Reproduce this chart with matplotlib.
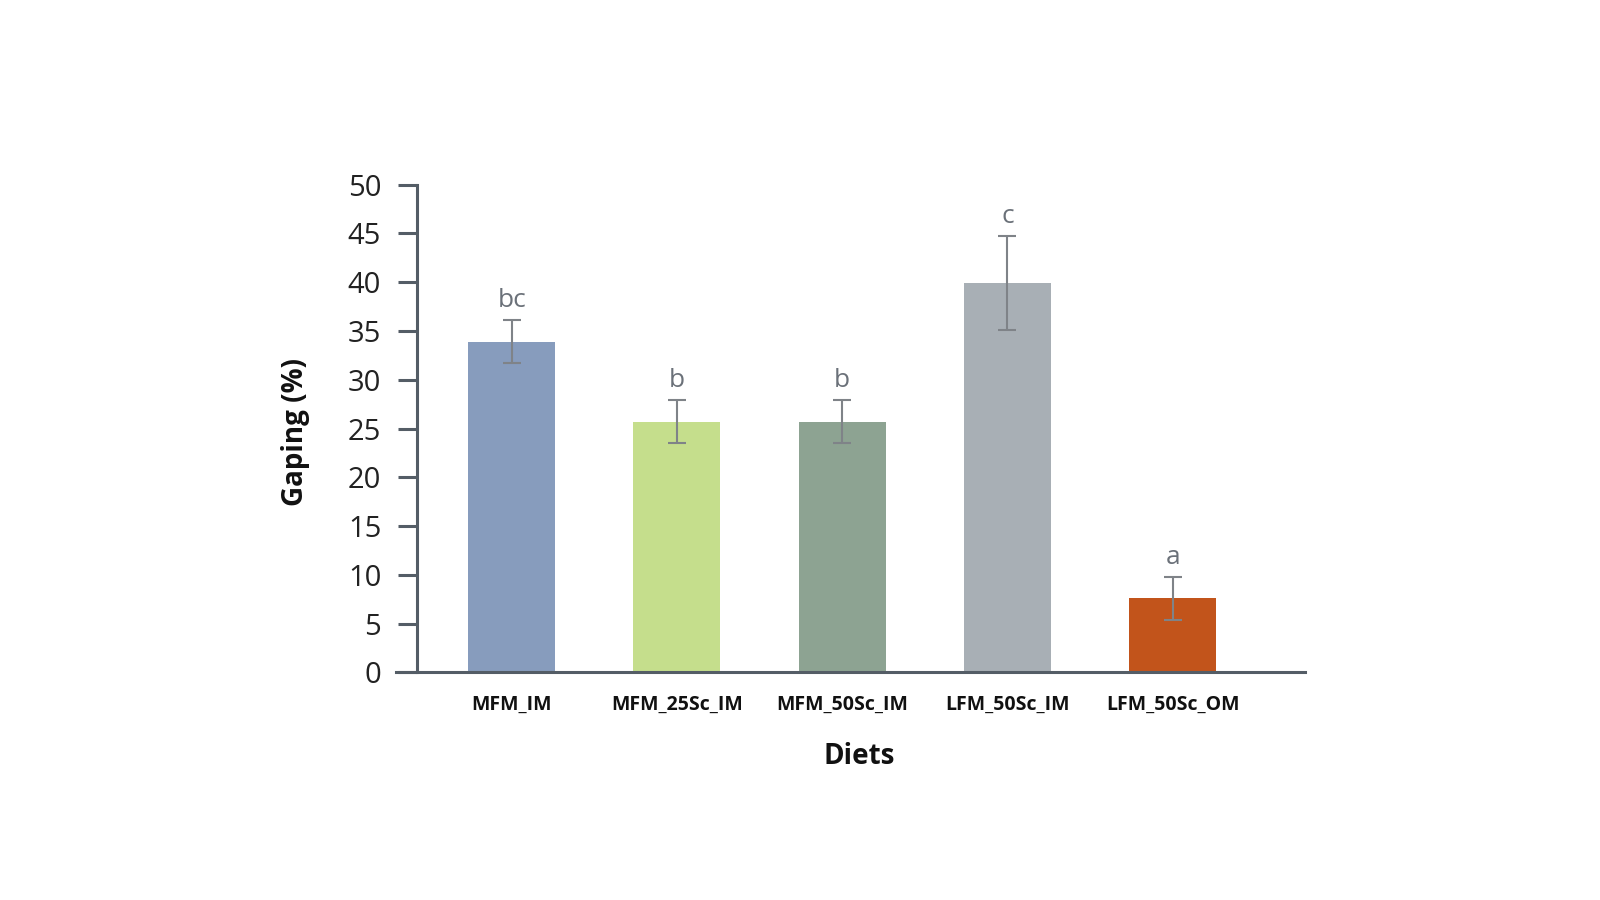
import matplotlib
matplotlib.use("Agg")
import matplotlib.pyplot as plt
import numpy as np

diets = ["MFM_IM", "MFM_25Sc_IM", "MFM_50Sc_IM", "LFM_50Sc_IM", "LFM_50Sc_OM"]
gaping = [33.9, 25.7, 25.7, 39.9, 7.6]
errors = [2.2, 2.2, 2.2, 4.8, 2.2]
letters = ["bc", "b", "b", "c", "a"]
colors = ["#879CBD", "#C5DE8C", "#8DA392", "#A8AFB5", "#C2541B"]
yticks = [0, 5, 10, 15, 20, 25, 30, 35, 40, 45, 50]

plt.rcParams['font.family'] = ['Open Sans', 'DejaVu Sans']
axis_color = "#545D66"

fig = plt.figure(figsize=(16, 9), dpi=100)
ax = fig.add_axes([0.2475, 0.2528, 0.8156 - 0.2475, 0.7948 - 0.2528])

x = np.arange(len(diets))
ax.bar(x, gaping, width=0.527, color=colors, zorder=2)
ax.errorbar(x, gaping, yerr=errors, fmt='none', ecolor="#7F8388",
            elinewidth=1.5, capsize=6.5, capthick=1.5, zorder=3)
for xi, v, e, lab in zip(x, gaping, errors, letters):
    ax.text(xi, v + e + 1.35, lab, ha='center', va='baseline',
            fontsize=19, color="#6B7179")

ax.set_xlim(-0.70, 4.80)
ax.set_ylim(0, 50)
ax.set_yticks(yticks)
ax.set_xticks(x)
ax.set_xticklabels(diets, fontsize=14, fontweight='bold', color="#111111")

for s in ['top', 'right']:
    ax.spines[s].set_visible(False)
ax.spines['left'].set_position(('data', -0.575))
ax.spines['left'].set_color(axis_color)
ax.spines['left'].set_linewidth(2.2)
ax.spines['bottom'].set_color(axis_color)
ax.spines['bottom'].set_linewidth(2.2)

ax.tick_params(axis='y', direction='out', length=13.5, width=2.2, color=axis_color,
               labelsize=21, labelcolor="#222222", pad=12)
ax.tick_params(axis='x', length=0, pad=16)

ax.set_ylabel("Gaping (%)", fontsize=20, fontweight='bold', color="#111111")
ax.yaxis.set_label_coords(295 / 1600, 1 - 432 / 900, transform=fig.transFigure)
ax.yaxis.label.set_va('center')
ax.set_xlabel("Diets", fontsize=20, fontweight='bold', color="#111111")
ax.xaxis.set_label_coords(859 / 1600, 1 - 757 / 900, transform=fig.transFigure)
ax.xaxis.label.set_va('center')

fig.savefig("out.png", dpi=100, facecolor='white')
